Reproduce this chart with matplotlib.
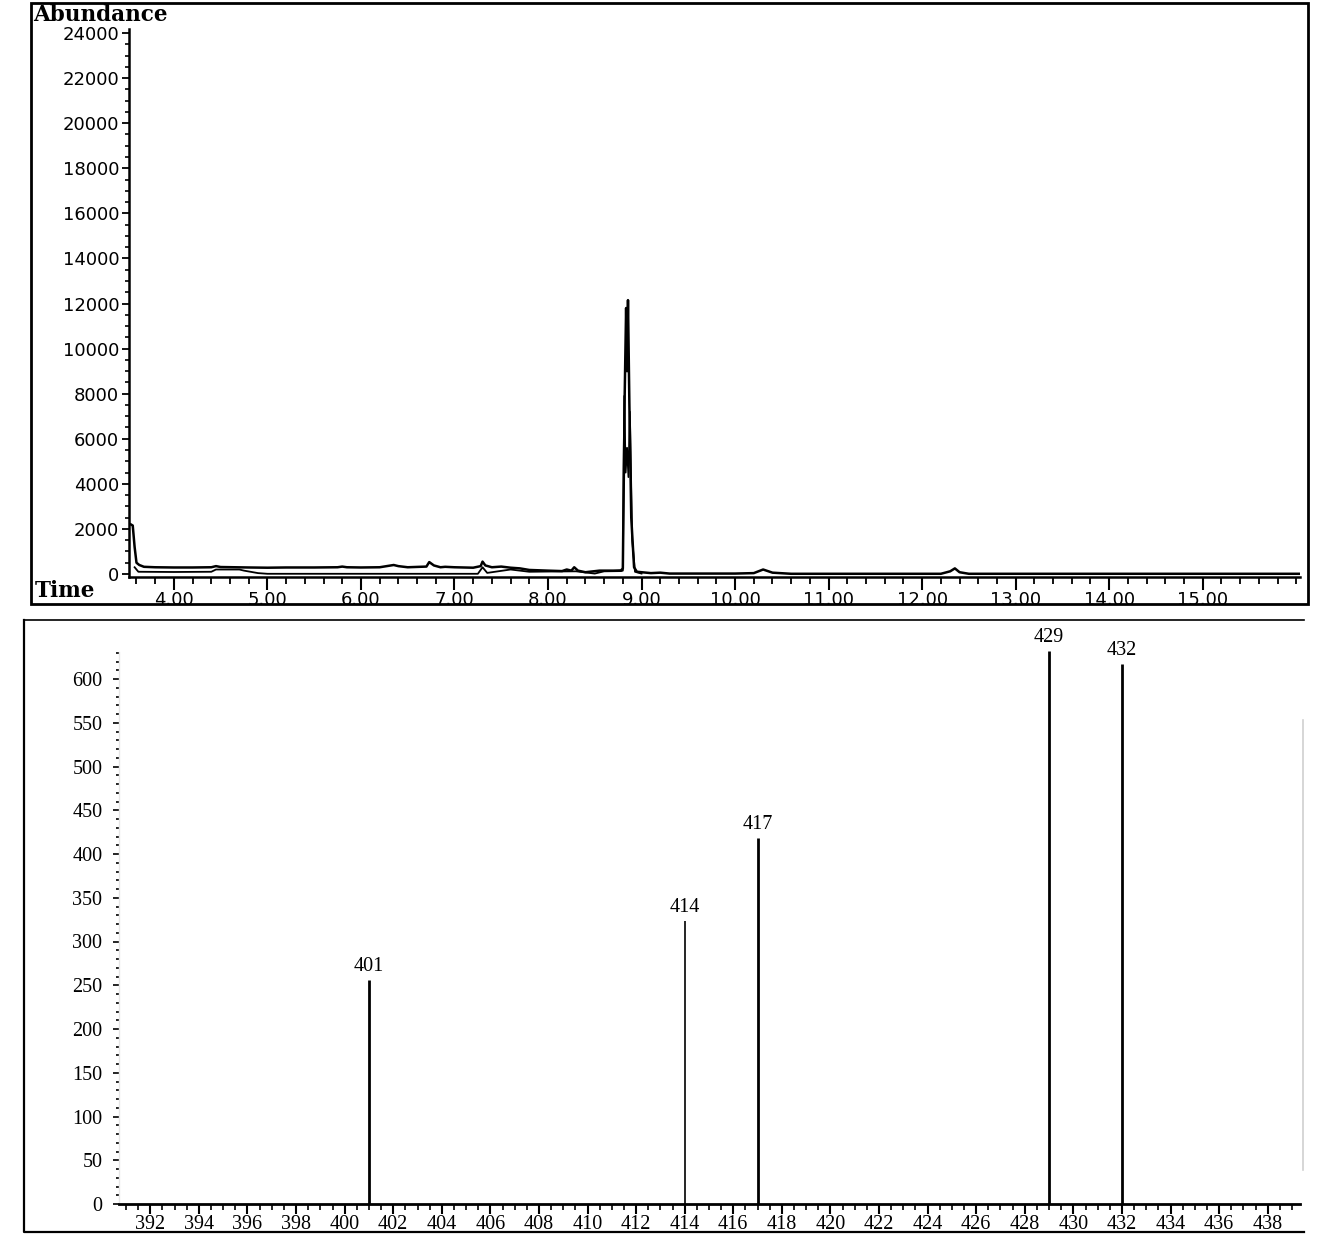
import numpy as np
import matplotlib
matplotlib.use('Agg')
import matplotlib.pyplot as plt
from matplotlib.patches import Rectangle
from matplotlib.ticker import MultipleLocator, FormatStrFormatter

# ---- chromatogram (top), two overlaid traces ----
tic_time = [3.54, 3.56, 3.58, 3.60, 3.63, 3.68, 3.80, 4.00, 4.20, 4.40, 4.45, 4.50,
            4.80, 5.00, 5.20, 5.50, 5.75, 5.80, 5.85, 6.00, 6.20, 6.35, 6.40, 6.50,
            6.70, 6.73, 6.78, 6.85, 6.90, 7.00, 7.20, 7.28, 7.30, 7.33, 7.40, 7.50,
            7.60, 7.70, 7.80, 8.00, 8.15, 8.20, 8.25, 8.28, 8.32, 8.40, 8.55, 8.70,
            8.78, 8.80, 8.82, 8.835, 8.845, 8.855, 8.87, 8.89, 8.92, 8.95, 9.00, 9.10,
            9.20, 9.30, 10.00, 10.20, 10.30, 10.40, 10.60, 12.20, 12.30, 12.35, 12.40,
            12.50, 16.04]
tic_abund = [2200, 2150, 1200, 500, 400, 320, 300, 290, 290, 300, 350, 310,
             290, 280, 290, 290, 300, 330, 300, 290, 300, 400, 350, 300,
             330, 530, 380, 300, 320, 300, 280, 350, 550, 380, 300, 330,
             280, 250, 180, 150, 130, 200, 150, 300, 150, 80, 150, 150,
             160, 250, 8000, 11800, 9000, 12150, 7500, 2500, 300, 100, 80, 40,
             60, 20, 20, 40, 200, 60, 10, 10, 120, 250, 80,
             10, 10]

tic2_time = [3.58, 3.62, 4.00, 4.40, 4.45, 4.70, 4.75, 4.90, 5.00, 7.25, 7.30, 7.35,
             7.60, 7.80, 8.00, 8.30, 8.50, 8.60, 8.78, 8.80, 8.815, 8.83, 8.845,
             8.86, 8.875, 8.90, 8.93, 9.00]
tic2_abund = [300, 100, 90, 100, 200, 200, 150, 40, 10, 10, 300, 50,
              200, 100, 110, 120, 20, 120, 130, 150, 7900, 4500, 5600,
              4300, 7200, 1500, 100, 20]

# ---- mass spectrum (bottom) ----
mz = [401, 414, 417, 429, 432]
intensity = [256, 323, 418, 632, 617]
mz_labels = ['401', '414', '417', '429', '432']
mz_widths = [2.0, 1.2, 2.0, 2.0, 2.0]

W, H = 1317, 1234
fig = plt.figure(figsize=(W / 100, H / 100), dpi=100)
fig.patch.set_facecolor('white')


def fx(px):
    return px / W


def fy(py):
    return 1 - py / H


# outer frames
fig.add_artist(Rectangle((fx(31), fy(604)), fx(1308) - fx(31), fy(3) - fy(604),
                         transform=fig.transFigure, fill=False, lw=2, ec='black'))
fig.add_artist(plt.Line2D([fx(24), fx(24), fx(1304)], [fy(620), fy(1232), fy(1232)],
                          transform=fig.transFigure, lw=1.6, color='black'))
fig.add_artist(plt.Line2D([fx(24), fx(1304)], [fy(620), fy(620)],
                          transform=fig.transFigure, lw=1.2, color='black'))
fig.add_artist(plt.Line2D([fx(1303), fx(1303)], [fy(720), fy(1170)],
                          transform=fig.transFigure, lw=1.2, color='#d0d0d0'))

# ---------------- top: chromatogram ----------------
ax1 = fig.add_axes([fx(129), fy(577.4), fx(1300) - fx(129), fy(28.5) - fy(577.4)])
ax1.plot(tic2_time, tic2_abund, color='black', lw=1.3)
ax1.plot(tic_time, tic_abund, color='black', lw=1.8)
ax1.set_xlim(3.52, 16.04)
ax1.set_ylim(-150, 24200)
for s in ['top', 'right']:
    ax1.spines[s].set_visible(False)
for s in ['left', 'bottom']:
    ax1.spines[s].set_linewidth(1.8)
ax1.xaxis.set_major_locator(MultipleLocator(1.0))
ax1.xaxis.set_minor_locator(MultipleLocator(0.2))
ax1.xaxis.set_major_formatter(FormatStrFormatter('%.2f'))
ax1.yaxis.set_major_locator(MultipleLocator(2000))
ax1.yaxis.set_minor_locator(MultipleLocator(500))
ax1.tick_params(axis='x', which='major', length=9, width=1.5, labelsize=13, pad=1)
ax1.tick_params(axis='x', which='minor', length=5, width=1.3)
ax1.tick_params(axis='y', which='major', length=5, width=1.3, labelsize=13, pad=2)
ax1.tick_params(axis='y', which='minor', length=3, width=1.2)
ax1.set_xticks(np.arange(4, 16, 1.0))
fig.text(fx(33), fy(15), 'Abundance', fontsize=15.5, fontweight='bold',
         family='DejaVu Serif', va='center', ha='left')
fig.text(fx(35), fy(591), 'Time', fontsize=15.5, fontweight='bold',
         family='DejaVu Serif', va='center', ha='left')

# ---------------- bottom: mass spectrum ----------------
ax2 = fig.add_axes([fx(119), fy(1204), fx(1300) - fx(119), fy(644) - fy(1204)])
ax2.vlines(mz, 0, intensity, colors='black', linewidths=mz_widths)
for m, v, lab in zip(mz, intensity, mz_labels):
    ax2.annotate(lab, (m, v), xytext=(0, 3), textcoords='offset points',
                 ha='center', va='bottom', fontsize=14.5, family='Liberation Serif',
                 annotation_clip=False)
ax2.set_xlim(390.71, 439.33)
ax2.set_ylim(0, 640)
for s in ['top', 'right']:
    ax2.spines[s].set_visible(False)
ax2.spines['left'].set_color('#e6e6e6')
ax2.spines['left'].set_linewidth(1)
ax2.spines['left'].set_bounds(0, 631)
ax2.spines['bottom'].set_linewidth(2)
ax2.xaxis.set_major_locator(MultipleLocator(2))
ax2.xaxis.set_minor_locator(MultipleLocator(0.5))
ax2.yaxis.set_major_locator(MultipleLocator(50))
ax2.yaxis.set_minor_locator(MultipleLocator(10))
ax2.set_xticks(np.arange(392, 439, 2))
ax2.set_yticks(np.arange(0, 601, 50))
ax2.set_yticks(np.arange(0, 631, 10), minor=True)
ax2.tick_params(axis='x', which='major', length=7, width=1.5, labelsize=14.5, pad=1)
ax2.tick_params(axis='x', which='minor', length=4, width=1.2)
ax2.tick_params(axis='y', which='major', length=4, width=1.2, labelsize=14.5, pad=8)
ax2.tick_params(axis='y', which='minor', length=2, width=1.2)
for lab in ax2.get_xticklabels() + ax2.get_yticklabels():
    lab.set_family('Liberation Serif')

fig.savefig('out.png', dpi=100, facecolor='white')
